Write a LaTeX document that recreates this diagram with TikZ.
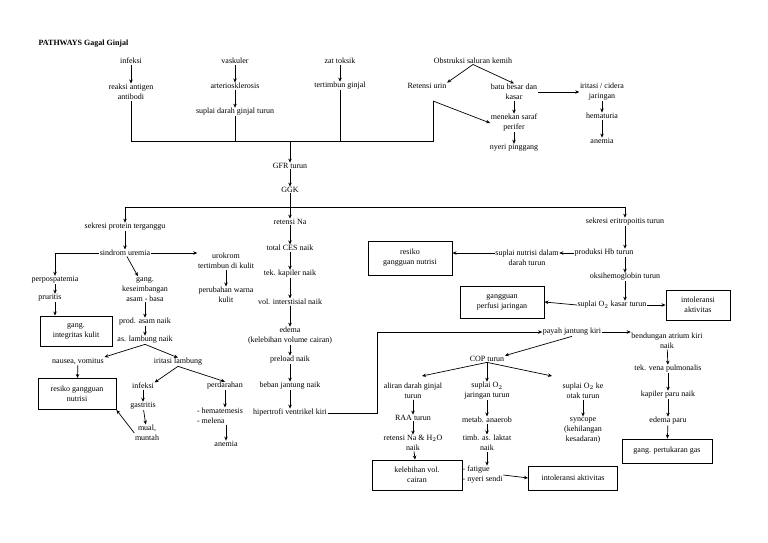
\documentclass[tikz,border=0pt]{standalone}
\usepackage{fontspec}
\setmainfont{Liberation Serif}
\usetikzlibrary{arrows.meta}
\begin{document}
\begin{tikzpicture}[x=1pt,y=-1pt,
 t/.style={align=center,inner sep=0.5pt,font=\fontsize{8}{10}\selectfont},
 bx/.style={t,draw,line width=0.9pt,minimum width=#1,minimum height=30pt},
 ar/.style={-{Stealth[length=4pt,width=3.5pt]},line width=0.7pt},
 ln/.style={line width=1pt}]
\fill[white] (0,0) rectangle (768,543);
\useasboundingbox (0,0) rectangle (768,543);
\node[t,anchor=west,font=\fontsize{8}{10}\selectfont\bfseries] (title) at (38,44) {PATHWAYS Gagal Ginjal};
% top
\node[t] (inf) at (131,61) {infeksi};
\node[t] (rea) at (131,92) {reaksi antigen\\antibodi};
\node[t] (vas) at (235,61) {vaskuler};
\node[t] (art) at (235,86) {arteriosklerosis};
\node[t] (sup) at (235,112) {suplai darah ginjal turun};
\node[t] (zat) at (340,61) {zat toksik};
\node[t] (ter) at (340,86) {tertimbun ginjal};
\node[t] (obs) at (473,61) {Obstruksi saluran kemih};
\node[t] (ret) at (427,86) {Retensi urin};
\node[t] (bat) at (514,92) {batu besar dan\\kasar};
\node[t] (iri) at (602,92) {iritasi / cidera\\jaringan};
\node[t] (men) at (514,123) {menekan saraf\\perifer};
\node[t] (nye) at (514,148) {nyeri pinggang};
\node[t] (hem) at (602,116) {hematuria};
\node[t] (ane) at (602,141) {anemia};
\draw[ar] (inf) -- (rea);
\draw[ar] (vas) -- (art);
\draw[ar] (art) -- (sup);
\draw[ar] (zat) -- (ter);
\draw[ar] (obs.south) -- (ret.north east);
\draw[ar] (obs.south) -- (bat.north);
\draw[ar] (bat.east) -- (iri.west);
\draw[ar] (bat) -- (men);
\draw[ar] (men) -- (nye);
\draw[ar] (iri) -- (hem);
\draw[ar] (hem) -- (ane);
\coordinate (ru) at (433,101);
\draw[ar] (ru) -- (men.west);
\node[t] (gfr) at (290,166) {GFR turun};
\node[t] (ggk) at (290,190) {GGK};
\draw[ln] (rea.south) -- (131,141) -| (ru);
\draw[ln] (sup.south) -- (235,141);
\draw[ln] (ter.south) -- (340,141);
\coordinate (bus) at (290,141);
\draw[ar] (bus) -- (gfr);
\draw[ar] (gfr) -- (ggk);
% middle bus
\node[t] (spt) at (125,227) {sekresi protein terganggu};
\node[t] (rna) at (290,222) {retensi Na};
\node[t] (ser) at (625,222) {sekresi eritropoitis turun};
\draw[ln] (ggk.south) -- (290,207);
\draw[ar] (125,207) -- (spt.north);
\draw[ar] (290,207) -- (rna.north);
\draw[ar] (625,207) -- (ser.north);
\draw[ln] (125,207) -- (625,207);
% left
\node[t] (sur) at (125,253) {sindrom uremia};
\node[t] (uro) at (226,261) {urokrom\\tertimbun di kulit};
\node[t] (pwk) at (226,295) {perubahan warna\\kulit};
\node[t] (per) at (55,280) {perpospatemia};
\node[t] (pru) at (50,298) {pruritis};
\node[bx=72pt] (gik) at (76,331) {gang.\\integritas kulit};
\node[t] (gka) at (145,289) {gang.\\keseimbangan\\asam - basa};
\node[t] (pan) at (145,322) {prod. asam naik};
\node[t] (aln) at (145,340) {as. lambung naik};
\node[t] (nau) at (78,361) {nausea, vomitus};
\node[t] (irl) at (178,362) {iritasi lambung};
\node[bx=78pt,minimum height=31pt] (rgn) at (77,394) {resiko gangguan\\nutrisi};
\node[t] (inf2) at (143,386) {infeksi};
\node[t] (gas) at (143,406) {gastritis};
\node[t] (mua) at (147,433) {mual,\\muntah};
\node[t] (per2) at (225,386) {perdarahan};
\node[t,align=left] (hmt) at (220,416) {- hematemesis\\- melena};
\node[t] (ane2) at (226,444) {anemia};
\draw[ar] (spt) -- (sur);
\draw[ar] (sur.west) -- (55,253) -- (per.north);
\draw[ar] (sur.east) -- (uro.west|-sur);
\draw[ar] (uro) -- (pwk);
\draw[ar] (per) -- (pru.north-|per);
\draw[ar] (pru.south-|per) -- (gik.north-|per);
\draw[ar] (sur) -- (gka);
\draw[ar] (gka) -- (pan);
\draw[ar] (pan) -- (aln);
\draw[ar] (aln.south) -- (nau.north east);
\draw[ar] (aln.south) -- (irl.north);
\draw[ar] (nau) -- (rgn);
\draw[ar] (irl.south) -- (inf2.north east);
\draw[ar] (irl.south) -- (per2.north);
\draw[ar] (inf2) -- (gas);
\draw[ar] (gas) -- (mua);
\draw[ar] (mua.west) -- (rgn.south east);
\draw[ar] (per2) -- (hmt.north-|per2);
\draw[ar] (hmt.south-|ane2) -- (ane2);
% center column
\node[t] (ces) at (290,248) {total CES naik};
\node[t] (tkn) at (290,274) {tek. kapiler naik};
\node[t] (vin) at (290,302) {vol. interstisial naik};
\node[t] (ede) at (290,336) {edema\\(kelebihan volume cairan)};
\node[t] (pre) at (290,360) {preload naik};
\node[t] (bjn) at (290,386) {beban jantung naik};
\node[t] (hvk) at (290,413) {hipertrofi ventrikel kiri};
\draw[ar] (rna) -- (ces);
\draw[ar] (ces) -- (tkn);
\draw[ar] (tkn) -- (vin);
\draw[ar] (vin) -- (ede);
\draw[ar] (ede) -- (pre);
\draw[ar] (pre) -- (bjn);
\draw[ar] (bjn) -- (hvk);
% right
\node[t] (phb) at (604,253) {produksi Hb turun};
\node[t] (snd) at (527,258) {suplai nutrisi dalam\\darah turun};
\node[bx=84pt,minimum height=34pt] (rgn2) at (410,258) {resiko\\gangguan nutrisi};
\node[t] (okh) at (625,277) {oksihemoglobin turun};
\node[t] (sok) at (612,305) {suplai O$_2$ kasar turun};
\node[bx=84pt,minimum height=32pt] (gpj) at (502,302) {gangguan\\perfusi jaringan};
\node[bx=64pt] (ina) at (698,305) {intoleransi\\aktivitas};
\draw[ar] (ser) -- (phb.north-|ser);
\draw[ar] (phb.west) -- (snd.east|-phb);
\draw[ar] (snd.west|-phb) -- (rgn2.east|-phb);
\draw[ar] (phb.south-|okh) -- (okh);
\draw[ar] (okh) -- (sok.north-|okh);
\draw[ar] (sok.west) -- (gpj.east);
\draw[ar] (sok.east) -- (ina.west|-sok);
\node[t] (pjk) at (572,332) {payah jantung kiri};
\node[t] (bak) at (667,341) {bendungan atrium kiri\\naik};
\draw[ar] (hvk.east) -- (377,413) |- (pjk.west);
\draw[ar] (pjk.east) -- (bak.west|-pjk);
\node[t] (cop) at (487,359) {COP turun};
\draw[ar] (pjk.south) -- (cop.north east);
\node[t] (adg) at (413,391) {aliran darah ginjal\\turun};
\node[t] (soj) at (487,391) {suplai O$_2$\\jaringan turun};
\node[t] (soo) at (583,391) {suplai O$_2$ ke\\otak turun};
\draw[ar] (cop.south) -- (422,376);
\draw[ar] (cop.south) -- (soj.north);
\draw[ar] (cop.south) -- (552,376);
\node[t] (raa) at (413,418) {RAA turun};
\node[t] (rnh) at (413,443) {retensi Na \& H$_2$O\\naik};
\node[t] (mta) at (487,420) {metab. anaerob};
\node[t] (tal) at (487,443) {timb. as. laktat\\naik};
\node[t] (syn) at (583,430) {syncope\\(kehilangan\\kesadaran)};
\node[bx=90pt,minimum height=30pt] (kvc) at (417,475) {kelebihan vol.\\cairan};
\node[t,align=left,anchor=west] (fat) at (462,475) {- fatigue\\- nyeri sendi};
\node[bx=89pt,minimum height=24pt] (ina2) at (573,478) {intoleransi aktivitas};
\draw[ar] (adg) -- (raa);
\draw[ar] (raa) -- (rnh);
\draw[ar] (rnh) -- (kvc);
\draw[ar] (soj) -- (mta);
\draw[ar] (mta) -- (tal);
\draw[ar] (tal) -- (fat.north-|tal);
\draw[ar] (fat.east) -- (ina2.west);
\draw[ar] (soo) -- (syn);
\node[t] (tvp) at (668,369) {tek. vena pulmonalis};
\node[t] (kpn) at (668,395) {kapiler paru naik};
\node[t] (edp) at (668,421) {edema paru};
\node[bx=90pt,minimum height=24pt] (gpg) at (667,451) {gang. pertukaran gas};
\draw[ar] (bak) -- (tvp);
\draw[ar] (tvp) -- (kpn);
\draw[ar] (kpn) -- (edp);
\draw[ar] (edp) -- (gpg);
\end{tikzpicture}
\end{document}
